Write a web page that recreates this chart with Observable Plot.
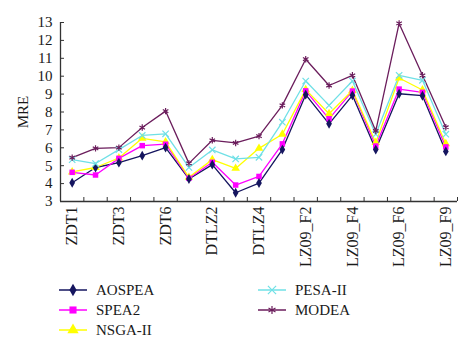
<!DOCTYPE html>
<html><head><meta charset="utf-8">
<script src="https://cdn.jsdelivr.net/npm/d3@7"></script>
<script src="https://cdn.jsdelivr.net/npm/@observablehq/plot@0.6"></script>
<style>
body{margin:0;background:#fff;font-family:"Liberation Serif",serif;}
#wrap{position:relative;width:474px;height:351px;overflow:hidden;}
.leg{position:absolute;height:20px;display:flex;align-items:center;font-size:15px;color:#1a1a1a;white-space:nowrap;}
.leg svg{margin-right:8px;}
</style></head><body><div id="wrap"></div>
<script>
const categories = ["ZDT1","ZDT2","ZDT3","ZDT4","ZDT6","DTLZ1","DTLZ2","DTLZ3","DTLZ4","LZ09_F1","LZ09_F2","LZ09_F3","LZ09_F4","LZ09_F5","LZ09_F6","LZ09_F7","LZ09_F9"];
const seriesNames = ["AOSPEA","SPEA2","NSGA-II","PESA-II","MODEA"];
const aospea = [4.05,4.90,5.17,5.56,6.01,4.26,5.06,3.49,4.03,5.90,8.97,7.34,8.93,5.90,9.02,8.91,5.80];
const spea2  = [4.63,4.48,5.41,6.12,6.20,4.30,5.19,3.92,4.40,6.22,9.18,7.62,9.17,6.10,9.28,9.10,6.05];
const nsga2  = [4.65,4.90,5.43,6.53,6.33,4.35,5.34,4.85,5.97,6.76,9.25,7.90,9.20,6.29,9.90,9.23,6.23];
const pesa2  = [5.34,5.12,5.90,6.69,6.78,4.90,5.88,5.38,5.47,7.43,9.73,8.37,9.73,6.76,10.05,9.77,6.76];
const modea  = [5.45,5.97,6.01,7.13,8.05,5.13,6.42,6.27,6.65,8.37,10.95,9.48,10.05,6.94,12.95,10.05,7.15];
const yTicks = [3,4,5,6,7,8,9,10,11,12,13];
const labelStep = 2;

const colors  = ["#15155f","#ff00ff","#ffff00","#6fe0e6","#6b1d5c"];
const symbols = ["diamond","square","triangle","times","asterisk"];
const filled  = [true,true,true,false,false];
const sizes   = [3.2,3.4,3.6,3.2,3.2];

const valuesBySeries = [aospea, spea2, nsga2, pesa2, modea];
const data = [];
seriesNames.forEach((s, k) => valuesBySeries[k].forEach((v, i) => data.push({series: s, k, i, x: i + 0.5, v})));

const boundaries = d3.range(0, categories.length + 1);
const labelPos = d3.range(0, categories.length, labelStep).map(i => i + 0.5);

const chart = Plot.plot({
  width: 474, height: 268,
  marginLeft: 60, marginRight: 17, marginTop: 22, marginBottom: 67,
  style: {fontFamily: "Liberation Serif, serif", fontSize: "15px", color: "#1a1a1a", background: "white"},
  x: {domain: [0, categories.length]},
  y: {domain: [3, 13]},
  color: {domain: seriesNames, range: colors},
  symbol: {domain: seriesNames, range: symbols},
  marks: [
    Plot.axisY({ticks: yTicks, tickSize: 0, tickPadding: 8, fontSize: 15, label: "MRE", labelAnchor: "center", labelArrow: "none", labelOffset: 43}),
    Plot.axisY({ticks: yTicks, tickSize: 4, dx: 4, fill: "none", label: null, stroke: "#333"}),
    Plot.axisX({ticks: labelPos, tickFormat: d => categories[Math.round(d - 0.5)], tickSize: 0, tickPadding: 5, tickRotate: -90, fontSize: 16, label: null}),
    Plot.axisX({ticks: boundaries, tickSize: 4, dy: -4, fill: "none", label: null, stroke: "#333"}),
    Plot.ruleX([0], {stroke: "#333", strokeWidth: 1.3}),
    Plot.ruleY([3], {stroke: "#333", strokeWidth: 1.3}),
    Plot.line(data, {x: "x", y: "v", z: "series", stroke: "series", strokeWidth: 1.3}),
    Plot.dot(data.filter(d => filled[d.k]), {x: "x", y: "v", symbol: "series", fill: "series", stroke: "none", r: d => sizes[d.k]}),
    Plot.dot(data.filter(d => !filled[d.k]), {x: "x", y: "v", symbol: "series", stroke: "series", fill: "none", strokeWidth: 1.2, r: d => sizes[d.k]})
  ]
});
const wrap = document.getElementById("wrap");
chart.style.position = "absolute"; chart.style.left = "0"; chart.style.top = "0";
wrap.appendChild(chart);

// legend
const legendLayout = [[59, 280], [59, 300], [59, 320], [258, 280], [258, 300]];
seriesNames.forEach((s, k) => {
  const div = document.createElement("div");
  div.className = "leg";
  div.style.left = legendLayout[k][0] + "px";
  div.style.top = legendLayout[k][1] + "px";
  const svg = d3.create("svg").attr("width", 29).attr("height", 20);
  svg.append("line").attr("x1", 0).attr("x2", 28).attr("y1", 10).attr("y2", 10).attr("stroke", colors[k]).attr("stroke-width", 1.5);
  const symMap = {diamond: d3.symbolDiamond, square: d3.symbolSquare, triangle: d3.symbolTriangle, times: d3.symbolTimes, asterisk: d3.symbolAsterisk};
  const r = sizes[k] + 0.6;
  const sym = d3.symbol(symMap[symbols[k]], Math.PI * r * r);
  const p = svg.append("path").attr("d", sym()).attr("transform", "translate(14,10)");
  if (filled[k]) p.attr("fill", colors[k]); else p.attr("fill", "none").attr("stroke", colors[k]).attr("stroke-width", 1.2);
  div.appendChild(svg.node());
  const t = document.createElement("span"); t.textContent = s; div.appendChild(t);
  wrap.appendChild(div);
});
</script></body></html>
